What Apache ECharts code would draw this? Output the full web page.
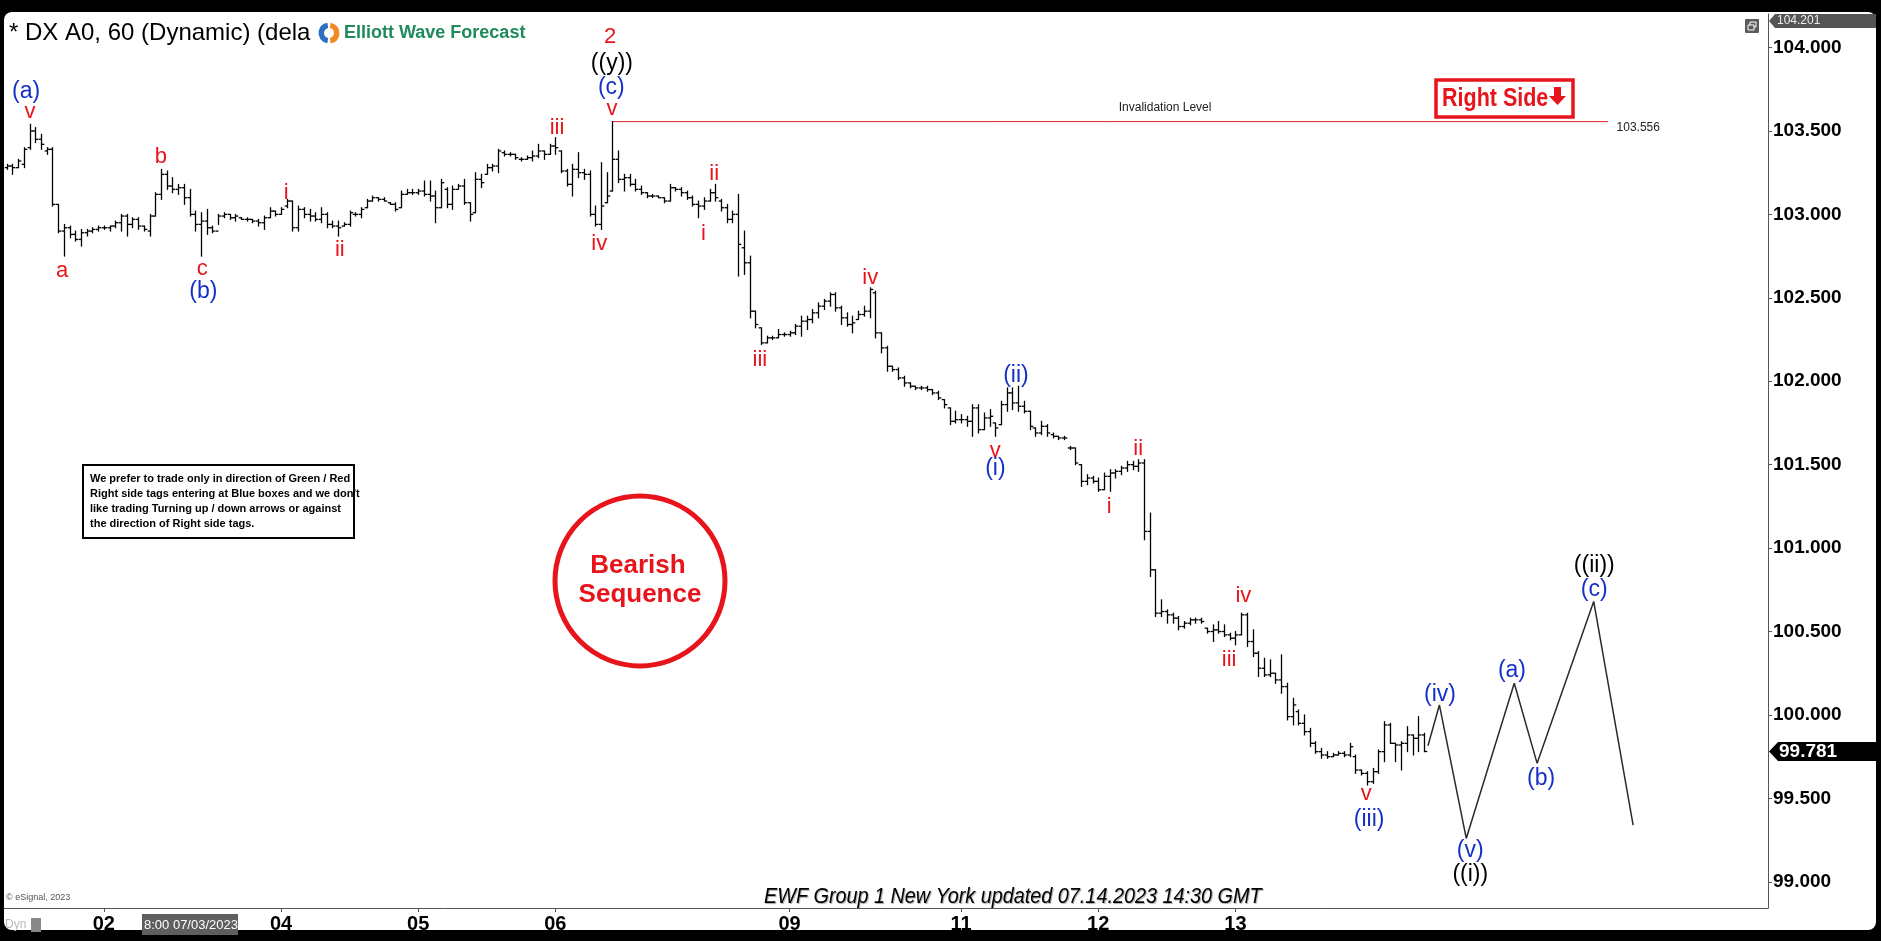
<!DOCTYPE html>
<html><head><meta charset="utf-8">
<script src="https://cdn.jsdelivr.net/npm/echarts@6/dist/echarts.min.js"></script>
<style>
html,body{margin:0;padding:0;background:#000;width:1881px;height:941px;overflow:hidden;}
#frame{position:absolute;left:4px;top:12px;width:1872px;height:918px;background:#fff;border-radius:8px;}
#chart{position:absolute;left:0;top:0;width:1881px;height:941px;}
</style></head>
<body><div id="frame"></div><div id="chart"></div>
<script>
// ---- DATA ----
// hourly OHLC bars [open, high, low, close]
const bars = [
[103.28,103.30,103.27,103.29],[103.29,103.30,103.24,103.28],[103.28,103.33,103.28,103.32],[103.30,103.40,103.28,103.39],
[103.40,103.54,103.39,103.50],[103.50,103.52,103.43,103.45],[103.45,103.48,103.39,103.42],[103.38,103.40,103.36,103.39],
[103.39,103.40,103.05,103.06],[103.06,103.06,102.89,102.90],[102.90,102.94,102.75,102.92],[102.92,102.93,102.86,102.88],
[102.88,102.90,102.84,102.85],[102.85,102.91,102.81,102.89],[102.89,102.91,102.87,102.90],[102.90,102.92,102.89,102.91],
[102.91,102.93,102.90,102.92],[102.92,102.93,102.91,102.92],[102.92,102.93,102.90,102.93],[102.93,102.96,102.92,102.95],
[102.95,103.00,102.90,102.99],[102.99,103.00,102.87,102.94],[102.94,102.98,102.92,102.97],[102.97,102.98,102.91,102.93],
[102.93,102.93,102.90,102.91],[102.90,103.00,102.87,102.99],[102.99,103.13,102.99,103.12],[103.12,103.27,103.09,103.24],
[103.24,103.26,103.15,103.17],[103.17,103.22,103.13,103.15],[103.15,103.18,103.12,103.16],[103.16,103.18,103.06,103.10],
[103.10,103.15,102.99,103.00],[103.00,103.02,102.90,102.94],[102.94,103.01,102.75,102.96],[102.96,103.03,102.88,102.92],
[102.92,102.93,102.89,102.90],[102.90,103.00,102.94,102.99],[102.99,103.01,102.98,103.00],[103.00,103.00,102.97,102.98],
[102.98,103.00,102.96,102.99],[102.98,102.98,102.97,102.97],[102.97,102.98,102.96,102.97],[102.97,102.97,102.95,102.96],
[102.96,102.97,102.93,102.95],[102.95,102.99,102.91,102.98],[102.98,103.04,102.98,103.02],[103.02,103.02,102.99,103.00],
[103.00,103.04,103.00,103.03],[103.05,103.09,103.04,103.08],[103.08,103.08,102.90,102.92],[102.92,103.05,102.90,103.03],
[103.03,103.04,102.98,103.00],[103.00,103.03,102.96,102.99],[102.99,103.01,102.96,102.97],[102.97,103.04,102.95,103.00],
[103.00,103.01,102.92,102.94],[102.94,102.96,102.92,102.93],[102.93,102.96,102.87,102.92],[102.93,102.95,102.93,102.94],
[102.94,103.02,102.93,103.01],[103.00,103.01,102.99,103.00],[103.00,103.04,102.98,103.03],[103.04,103.09,103.04,103.08],
[103.08,103.11,103.08,103.10],[103.10,103.10,103.08,103.09],[103.09,103.10,103.08,103.08],[103.07,103.07,103.06,103.06],
[103.06,103.07,103.02,103.03],[103.04,103.14,103.04,103.12],[103.12,103.15,103.12,103.13],[103.13,103.15,103.12,103.13],
[103.13,103.15,103.12,103.14],[103.14,103.20,103.11,103.12],[103.12,103.20,103.08,103.11],[103.11,103.14,102.95,103.04],
[103.04,103.21,103.04,103.19],[103.15,103.16,103.04,103.06],[103.06,103.17,103.03,103.15],[103.15,103.18,103.15,103.17],
[103.17,103.21,103.06,103.07],[103.07,103.07,102.96,103.00],[103.01,103.25,103.01,103.21],[103.21,103.24,103.16,103.19],
[103.24,103.30,103.24,103.28],[103.28,103.30,103.26,103.29],[103.29,103.39,103.25,103.38],[103.37,103.38,103.35,103.36],
[103.36,103.37,103.35,103.36],[103.36,103.36,103.33,103.34],[103.33,103.34,103.32,103.33],[103.33,103.35,103.33,103.34],
[103.34,103.38,103.32,103.35],[103.35,103.42,103.34,103.38],[103.38,103.38,103.33,103.36],[103.36,103.42,103.36,103.41],
[103.41,103.46,103.36,103.40],[103.38,103.38,103.25,103.26],[103.26,103.27,103.17,103.18],[103.18,103.30,103.11,103.27],
[103.27,103.37,103.22,103.25],[103.25,103.27,103.21,103.24],[103.24,103.26,102.99,103.00],[103.00,103.05,102.93,102.94],
[102.94,103.31,102.91,103.05],[103.07,103.25,103.07,103.11],[103.14,103.556,103.14,103.33],[103.33,103.38,103.19,103.21],
[103.21,103.24,103.14,103.22],[103.22,103.24,103.17,103.18],[103.18,103.21,103.14,103.15],[103.15,103.17,103.12,103.13],
[103.13,103.13,103.10,103.11],[103.11,103.12,103.10,103.11],[103.11,103.11,103.10,103.10],[103.10,103.10,103.07,103.08],
[103.08,103.18,103.08,103.16],[103.16,103.16,103.14,103.15],[103.15,103.16,103.11,103.13],[103.13,103.14,103.09,103.10],
[103.10,103.11,103.05,103.06],[103.06,103.08,102.98,103.05],[103.05,103.10,103.03,103.08],[103.08,103.15,103.08,103.13],
[103.13,103.18,103.08,103.10],[103.08,103.09,103.02,103.04],[103.04,103.06,102.95,102.97],[102.97,103.02,102.95,103.00],
[103.00,103.12,102.63,102.82],[102.80,102.90,102.64,102.71],[102.71,102.75,102.38,102.42],[102.42,102.42,102.32,102.34],
[102.32,102.32,102.22,102.23],[102.23,102.27,102.23,102.26],[102.26,102.27,102.25,102.26],[102.26,102.31,102.26,102.28],
[102.28,102.29,102.27,102.28],[102.28,102.30,102.27,102.29],[102.29,102.34,102.28,102.33],[102.33,102.39,102.27,102.36],
[102.36,102.39,102.31,102.37],[102.37,102.43,102.35,102.41],[102.41,102.47,102.38,102.45],[102.45,102.49,102.43,102.48],
[102.48,102.53,102.45,102.52],[102.52,102.53,102.42,102.44],[102.44,102.45,102.34,102.38],[102.38,102.41,102.33,102.34],
[102.34,102.39,102.29,102.35],[102.37,102.42,102.37,102.40],[102.40,102.45,102.39,102.42],[102.42,102.56,102.38,102.55],
[102.53,102.54,102.26,102.29],[102.29,102.29,102.17,102.20],[102.20,102.21,102.06,102.09],[102.09,102.09,102.06,102.07],
[102.07,102.08,102.01,102.02],[102.02,102.03,101.97,101.99],[101.99,101.99,101.96,101.97],[101.97,101.97,101.95,101.96],
[101.96,101.97,101.95,101.96],[101.96,101.97,101.94,101.95],[101.95,101.95,101.92,101.93],[101.93,101.94,101.89,101.90],
[101.89,101.89,101.84,101.86],[101.84,101.84,101.74,101.76],[101.76,101.82,101.75,101.77],[101.77,101.80,101.75,101.77],
[101.77,101.79,101.73,101.76],[101.76,101.86,101.67,101.84],[101.84,101.86,101.69,101.71],[101.71,101.81,101.71,101.78],
[101.78,101.83,101.73,101.79],[101.75,101.75,101.67,101.72],[101.74,101.88,101.74,101.86],[101.86,101.96,101.82,101.93],
[101.93,101.96,101.83,101.87],[101.87,101.97,101.82,101.85],[101.85,101.88,101.81,101.82],[101.82,101.82,101.71,101.73],
[101.72,101.72,101.67,101.69],[101.69,101.76,101.68,101.73],[101.73,101.74,101.67,101.69],[101.68,101.69,101.66,101.67],
[101.67,101.67,101.65,101.66],[101.66,101.67,101.65,101.66],[101.60,101.61,101.59,101.60],[101.60,101.60,101.50,101.51],
[101.50,101.50,101.37,101.40],[101.40,101.44,101.38,101.42],[101.42,101.43,101.39,101.40],[101.40,101.42,101.34,101.35],
[101.35,101.45,101.35,101.43],[101.43,101.47,101.34,101.45],[101.45,101.47,101.42,101.46],[101.46,101.49,101.44,101.48],
[101.48,101.52,101.46,101.50],[101.50,101.52,101.47,101.49],[101.49,101.53,101.46,101.51],[101.51,101.53,101.05,101.10],
[101.10,101.21,100.83,100.87],[100.87,100.87,100.59,100.61],[100.61,100.69,100.59,100.62],[100.62,100.63,100.55,100.60],
[100.60,100.61,100.55,100.58],[100.58,100.59,100.51,100.53],[100.53,100.56,100.52,100.55],[100.55,100.58,100.54,100.57],
[100.57,100.58,100.55,100.57],[100.57,100.58,100.55,100.56],[100.52,100.52,100.49,100.50],[100.50,100.54,100.44,100.51],
[100.51,100.56,100.49,100.50],[100.50,100.54,100.47,100.48],[100.48,100.49,100.45,100.46],[100.46,100.50,100.42,100.48],
[100.48,100.61,100.48,100.60],[100.60,100.61,100.41,100.44],[100.44,100.51,100.35,100.37],[100.37,100.38,100.23,100.28],
[100.28,100.34,100.23,100.24],[100.24,100.33,100.23,100.25],[100.25,100.25,100.19,100.21],[100.21,100.36,100.13,100.17],
[100.17,100.19,99.97,99.99],[99.99,100.10,99.94,100.06],[100.02,100.03,99.94,99.95],[99.95,100.00,99.88,99.90],
[99.90,99.92,99.81,99.83],[99.83,99.84,99.77,99.78],[99.78,99.80,99.74,99.76],[99.76,99.78,99.74,99.75],
[99.75,99.77,99.75,99.76],[99.76,99.78,99.76,99.77],[99.77,99.78,99.75,99.76],[99.76,99.83,99.75,99.81],
[99.75,99.76,99.65,99.67],[99.67,99.67,99.64,99.65],[99.65,99.66,99.58,99.60],[99.60,99.68,99.59,99.66],
[99.66,99.79,99.65,99.78],[99.78,99.96,99.72,99.94],[99.94,99.95,99.83,99.83],[99.83,99.83,99.72,99.82],
[99.82,99.84,99.67,99.83],[99.83,99.93,99.78,99.88],[99.88,99.88,99.76,99.86],[99.86,99.99,99.78,99.88],
[99.88,99.89,99.78,99.781]
];
const dayTickIndex  = [17, 48, 72, 96, 137, 167, 191, 215];
const dayTickLabels = ['02','04','05','06','09','11','12','13'];
const priceTicks = [99, 99.5, 100, 100.5, 101, 101.5, 102, 102.5, 103, 103.5, 104];
const priceMin = 98.843, priceMax = 104.201;
// projected path (bar index, price)
const projX = [248.7, 250.7, 255.4, 263.8, 267.8, 277.7, 284.6];
const projY = [99.815, 100.06, 99.26, 100.19, 99.71, 100.68, 99.34];
const invalidationLevel = 103.556;
const invalidationSpan = [106, 280.2];
const lastPrice = 99.781;
// wave labels: [text, bar index, price, degree]
const waveLabels = [
['(a)',3.4,103.736,'b'],['v',4.1,103.616,'r'],['a',9.7,102.663,'r'],['b',27.0,103.346,'r'],
['c',34.2,102.675,'r'],['(b)',34.4,102.537,'b'],['i',48.9,103.130,'r'],['ii',58.3,102.789,'r'],
['iii',96.3,103.520,'r'],['iv',103.7,102.825,'r'],['v',105.9,103.630,'r'],['(c)',105.8,103.760,'b'],
['((y))',105.9,103.904,'k'],['2',105.6,104.066,'r'],['ii',123.8,103.244,'r'],['i',121.9,102.882,'r'],
['iii',131.8,102.125,'r'],['iv',151.1,102.621,'r'],['(ii)',176.6,102.033,'b'],['v',173.0,101.585,'r'],
['(i)',173.0,101.475,'b'],['ii',198.0,101.597,'r'],['i',192.9,101.245,'r'],['iv',216.4,100.715,'r'],
['iii',213.9,100.328,'r'],['v',237.9,99.526,'r'],['(iii)',238.4,99.370,'b'],['(iv)',250.8,100.122,'b'],
['(v)',256.1,99.184,'b'],['((i))',256.1,99.040,'k'],['(a)',263.4,100.264,'b'],['(b)',268.5,99.616,'b'],
['((ii))',277.8,100.894,'k'],['(c)',277.8,100.750,'b']
];
const levelLabels = [['Invalidation Level',202.7,103.640],['103.556',285.5,103.520]];

// ---- CHART ----
const FONT = "'Liberation Sans', Arial, sans-serif";
const degreeColor = {r:'#e8141b', b:'#1530c8', k:'#000000', n:'#222222'};
const degreeSize = {r:22, b:23, k:23, n:12};
const chart = echarts.init(document.getElementById('chart'), null, {renderer:'canvas'});

function renderOHLC(params, api){
  const x = api.value(0);
  const o = api.coord([x, api.value(1)]);
  const h = api.coord([x, api.value(2)]);
  const l = api.coord([x, api.value(3)]);
  const c = api.coord([x, api.value(4)]);
  const px = Math.round(h[0]) + 0.5;
  const t = 2.8;
  const st = {stroke:'#000', lineWidth:1.3};
  return {type:'group', children:[
    {type:'line', shape:{x1:px, y1:h[1]-0.5, x2:px, y2:l[1]+0.5}, style:st},
    {type:'line', shape:{x1:px-t, y1:o[1], x2:px, y2:o[1]}, style:st},
    {type:'line', shape:{x1:px, y1:c[1], x2:px+t, y2:c[1]}, style:st}
  ]};
}
function makeTextRenderer(list, defaultKind){
  return function(params, api){
    const w = list[params.dataIndex];
    const p = api.coord([api.value(0), api.value(1)]);
    const kind = w[3] || defaultKind;
    return {type:'text', x:p[0], y:p[1], style:{text:w[0], fill:degreeColor[kind],
      font:degreeSize[kind]+'px '+FONT, align:'center', verticalAlign:'middle'}};
  };
}

const option = {
  animation:false,
  backgroundColor:'transparent',
  grid:{left:4, top:14, width:1764, height:894, containLabel:false, outerBoundsMode:'none'},
  xAxis:{type:'value', min:-0.47, max:308.2, position:'bottom',
    axisLine:{show:true, onZero:false, lineStyle:{color:'#555', width:1}},
    axisTick:{show:true, customValues:dayTickIndex, length:4, lineStyle:{color:'#555'}},
    axisLabel:{show:true, customValues:dayTickIndex, margin:6,
      formatter:v=>{const k=dayTickIndex.indexOf(v); return k>=0?dayTickLabels[k]:'';},
      fontFamily:"'Liberation Sans Narrow','Arial Narrow','Liberation Sans',sans-serif", fontWeight:'bold', fontSize:20, color:'#000'},
    splitLine:{show:false}},
  yAxis:{type:'value', position:'right', min:priceMin, max:priceMax, scale:true,
    axisLine:{show:true, onZero:false, lineStyle:{color:'#555', width:1}},
    axisTick:{show:true, customValues:priceTicks, length:4, lineStyle:{color:'#555'}},
    axisLabel:{show:true, customValues:priceTicks, margin:5, formatter:v=>v.toFixed(3),
      fontFamily:FONT, fontWeight:'bold', fontSize:19, color:'#000'},
    splitLine:{show:false}},
  series:[
    {type:'custom', name:'DX', renderItem:renderOHLC, silent:true,
     data:bars.map((b,i)=>[i,b[0],b[1],b[2],b[3]]), encode:{x:0, y:[1,2,3,4]}, z:3},
    {type:'line', name:'invalidation', silent:true, symbol:'none',
     data:[[invalidationSpan[0], invalidationLevel],[invalidationSpan[1], invalidationLevel]],
     lineStyle:{color:'#e02020', width:1}, z:2},
    {type:'line', name:'projection', silent:true, symbol:'none',
     data:projX.map((x,i)=>[x, projY[i]]), lineStyle:{color:'#2a2a2a', width:1.5}, z:3},
    {type:'custom', name:'waves', silent:true, renderItem:makeTextRenderer(waveLabels,'r'),
     data:waveLabels.map(w=>[w[1],w[2]]), encode:{x:0, y:1}, z:5},
    {type:'custom', name:'levels', silent:true, renderItem:makeTextRenderer(levelLabels,'n'),
     data:levelLabels.map(w=>[w[1],w[2]]), encode:{x:0, y:1}, z:5}
  ]
};
chart.setOption(option);

// ---- decorations ----
const yTop = Math.max(chart.convertToPixel({yAxisIndex:0}, priceMax), 14) + 7;
const yLast = chart.convertToPixel({yAxisIndex:0}, lastPrice);
const g = [];
// title
g.push({type:'text', x:9, y:33, style:{text:'* DX A0, 60 (Dynamic) (dela', font:'24px '+FONT, fill:'#000', verticalAlign:'middle'}});
// logo
g.push({type:'sector', shape:{cx:329, cy:33, r:10.5, r0:5, startAngle:Math.PI*0.55, endAngle:Math.PI*1.45}, style:{fill:'#2d6fc0'}});
g.push({type:'sector', shape:{cx:329, cy:33, r:10.5, r0:5, startAngle:-Math.PI*0.45, endAngle:Math.PI*0.45}, style:{fill:'#f08a24'}});
g.push({type:'text', x:344, y:33, style:{text:'Elliott Wave Forecast', font:'bold 18px '+FONT, fill:'#1f8a5c', verticalAlign:'middle'}});
// small top-right icon
g.push({type:'rect', shape:{x:1745, y:19, width:14, height:14, r:1}, style:{fill:'#5c5c5c'}});
g.push({type:'rect', shape:{x:1750, y:22, width:6, height:5}, style:{fill:'none', stroke:'#fff', lineWidth:1}});
g.push({type:'rect', shape:{x:1748, y:25, width:6, height:5}, style:{fill:'#5c5c5c', stroke:'#fff', lineWidth:1}});
// Right Side tag
g.push({type:'rect', shape:{x:1436, y:80, width:137, height:37}, style:{fill:'#fff', stroke:'#e8141b', lineWidth:3.5}});
g.push({type:'text', x:1442, y:99, scaleX:0.86, originX:0, style:{text:'Right Side', font:'bold 25px '+FONT, fill:'#e8141b', verticalAlign:'middle'}});
g.push({type:'polygon', shape:{points:[[1554,87],[1561,87],[1561,96],[1566,96],[1557.5,105],[1549,96],[1554,96]]}, style:{fill:'#e8141b'}});
// info box
g.push({type:'rect', shape:{x:83, y:465, width:271, height:73}, style:{fill:'#fff', stroke:'#000', lineWidth:2}});
g.push({type:'text', x:90, y:471, style:{text:"We prefer to trade only in direction of Green / Red\nRight side tags entering at Blue boxes and we don't\nlike trading Turning up / down arrows or against\nthe direction of Right side tags.", font:'bold 11px '+FONT, fill:'#000', lineHeight:15.2}});
// bearish sequence
g.push({type:'circle', shape:{cx:640, cy:581, r:85}, style:{fill:'none', stroke:'#e8141b', lineWidth:5}});
g.push({type:'text', x:638, y:566, style:{text:'Bearish', font:'bold 26px '+FONT, fill:'#e8141b', align:'center', verticalAlign:'middle'}});
g.push({type:'text', x:640, y:595, style:{text:'Sequence', font:'bold 26px '+FONT, fill:'#e8141b', align:'center', verticalAlign:'middle'}});
// footer
g.push({type:'text', x:764, y:897, scaleX:0.9, originX:0, style:{text:'EWF Group 1 New York updated 07.14.2023 14:30 GMT', font:'italic 22px '+FONT, fill:'#000', verticalAlign:'middle', textShadowColor:'rgba(0,0,0,0.35)', textShadowOffsetX:1, textShadowOffsetY:1, textShadowBlur:1}});
g.push({type:'text', x:6, y:898, style:{text:'© eSignal, 2023', font:'9px '+FONT, fill:'#555', verticalAlign:'middle'}});
g.push({type:'text', x:5, y:925, style:{text:'Dyn', font:'12px '+FONT, fill:'#bbb', verticalAlign:'middle'}});
g.push({type:'rect', shape:{x:31, y:918, width:10, height:14}, style:{fill:'#888'}});
g.push({type:'rect', shape:{x:142, y:914, width:96, height:21}, style:{fill:'#5f5f5f'}});
g.push({type:'text', x:144, y:925, style:{text:'8:00 07/03/2023', font:'13px '+FONT, fill:'#fff', verticalAlign:'middle'}});
// price tags on the axis
g.push({type:'polygon', shape:{points:[[1769,yTop],[1775,yTop-7],[1876,yTop-7],[1876,yTop+7],[1775,yTop+7]]}, style:{fill:'#555'}});
g.push({type:'text', x:1777, y:yTop, style:{text:priceMax.toFixed(3), font:'12px '+FONT, fill:'#eee', verticalAlign:'middle'}});
g.push({type:'polygon', shape:{points:[[1769,yLast],[1778,yLast-9.5],[1876,yLast-9.5],[1876,yLast+9.5],[1778,yLast+9.5]]}, style:{fill:'#000'}});
g.push({type:'text', x:1779, y:yLast+0.5, style:{text:lastPrice.toFixed(3), font:'bold 19px '+FONT, fill:'#fff', verticalAlign:'middle'}});
chart.setOption({graphic:{elements:g}});
</script>
</body></html>
